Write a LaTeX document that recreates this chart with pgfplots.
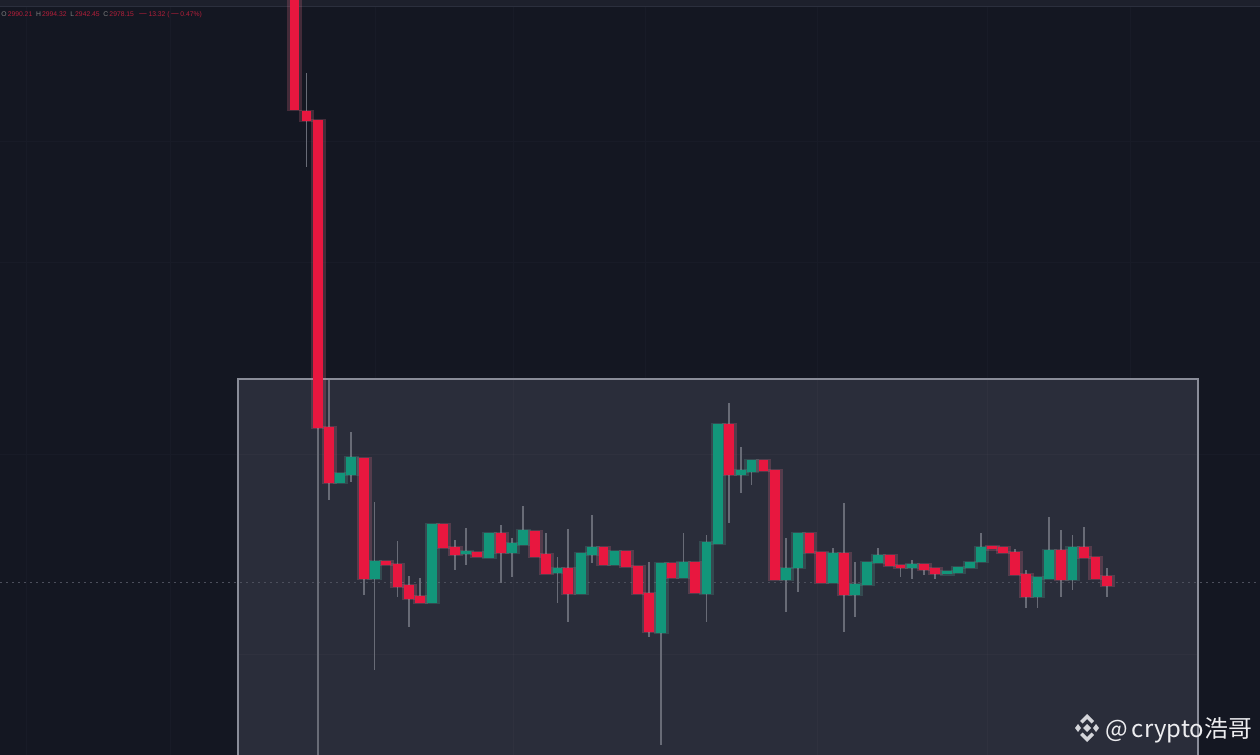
\documentclass[border=0pt]{standalone}
\usepackage{fontspec}
\setmainfont{Noto Sans CJK SC}
\newfontfamily\smallsans{Liberation Sans}
\usepackage{pgfplots}
\usepackage{pgfplotstable}
\pgfplotsset{compat=1.18}
\definecolor{bg}{HTML}{141722}
\definecolor{panel}{HTML}{2A2D3A}
\definecolor{panelborder}{HTML}{8A8D99}
\definecolor{cred}{HTML}{E8173F}
\definecolor{cgreen}{HTML}{12967A}
\definecolor{wick}{HTML}{686B76}
\definecolor{toolbar}{HTML}{1D202C}
\definecolor{gridc}{HTML}{181B27}
\definecolor{txtred}{HTML}{B51F3A}
\definecolor{logoc}{HTML}{D4D5DA}
\definecolor{wmtext}{HTML}{EDEDF0}
\definecolor{priceline}{HTML}{4C4F5C}
\definecolor{tbline}{HTML}{2B2F3D}

% x = candle centre, o c h l = open close high low (chart units)
\pgfplotstableread{
x o c h l
294.5 765 645 765 645
306.5 644 634 682 588
318 635 327 635 -10
329 328 272 375 255
364 297 176 297 160
386 194 190 194 190
397.5 191 168 214 158
409 170 156 179 128
420 159 152 177 152
443 231 207 231 207
455 208 200 215 185
477 203 198 203 198
501 222 202 230 172
535 224 198 224 198
546 201 181 222 181
568 187 161 226 133
603.5 208 190 208 190
626 204 188 204 188
638 189 161 189 161
649 162 123 193 118
671.5 192 177 192 177
695 193 162 193 162
729 331 280 352 232
763.5 295 284 295 284
775 285 175 285 175
809.5 222 202 222 202
821 203 172 203 172
844 202 160 252 123
890 200 189 200 189
900.5 190 187 190 178
924 191 185 191 180
935 187 181 187 176
992 208 206 208 206
1003 208 202 208 202
1015 203 180 206 180
1026 181 158 185 147
1061 205 175 225 158
1084 208 197 228 197
1095.5 198 176 198 176
1107 179 169 187 158
}\redtab

\pgfplotstableread{
x o c h l
340 272 282 282 272
351 280 298 323 273
374.7 176 194 253 85
432 152 231 231 152
466 202 203.5 227 190
489 197 222 222 197
512 202 212 217 178
523 210 225 249 210
557.5 182 187 198 152
581 161 202 202 161
592 200 208 240 192
614.5 190 204 204 190
661 122 192 192 10
683.5 177 193 222 177
706.5 161 213 220 133
718 211 331 331 211
741 280 285 308 262
751.5 283 295 295 270
786 175 187 217 143
798 187 222 222 163
833 172 202 207 172
855 160 171 193 138
867 170 193 193 170
878 192 200 207 192
912 187 191 195 176
947 181 183 183 181
958 182 188 188 182
970 187 193 193 187
981 193 208 222 193
1037.5 158 178 178 147
1049 176 205 238 176
1072.5 175 208 220 165
}\greentab

\pgfplotsset{
  wickplot/.style={mark=none, draw=none, forget plot,
    error bars/.cd, y dir=both, y explicit, error mark=none,
    error bar style={line width=0.7bp, draw=wick, solid}},
  bodyplot/.style n args={3}{mark=none, draw=none, forget plot,
    error bars/.cd, y dir=both, y explicit, error mark=none,
    error bar style={line width=#2, draw=#1, solid, line cap=butt, opacity=#3}},
}

\begin{document}
\begin{tikzpicture}
\begin{axis}[
  width=630bp, height=377.5bp, scale only axis,
  xmin=0, xmax=1260, ymin=0, ymax=755,
  axis lines=none, ticks=none, clip=true,
]
% background
\fill[bg] (rel axis cs:0,0) rectangle (rel axis cs:1,1);
% faint grid
\draw[gridc, line width=0.5bp] (axis cs:26,0) -- (axis cs:26,748);
\draw[gridc, line width=0.5bp] (axis cs:170,0) -- (axis cs:170,748);
\draw[gridc, line width=0.5bp] (axis cs:375,0) -- (axis cs:375,748);
\draw[gridc, line width=0.5bp] (axis cs:513,0) -- (axis cs:513,748);
\draw[gridc, line width=0.5bp] (axis cs:645,0) -- (axis cs:645,748);
\draw[gridc, line width=0.5bp] (axis cs:817,0) -- (axis cs:817,748);
\draw[gridc, line width=0.5bp] (axis cs:987,0) -- (axis cs:987,748);
\draw[gridc, line width=0.5bp] (axis cs:1130,0) -- (axis cs:1130,748);
\draw[gridc, line width=0.5bp] (axis cs:0,492) -- (axis cs:1260,492);
\draw[gridc, line width=0.5bp] (axis cs:0,613) -- (axis cs:1260,613);
\draw[gridc, line width=0.5bp] (axis cs:0,300) -- (axis cs:1260,300);
% top toolbar
\fill[toolbar] (axis cs:0,748) rectangle (axis cs:1260,756);
\draw[tbline, line width=0.5bp] (axis cs:0,748) -- (axis cs:1260,748);
% highlighted panel
\fill[panel] (axis cs:238,-5) rectangle (axis cs:1198,376);
\draw[white, opacity=0.025, line width=0.5bp] (axis cs:238,300) -- (axis cs:1198,300);
\draw[white, opacity=0.025, line width=0.5bp] (axis cs:238,100) -- (axis cs:1198,100);
\draw[white, opacity=0.025, line width=0.5bp] (axis cs:513,-5) -- (axis cs:513,376);
\draw[white, opacity=0.025, line width=0.5bp] (axis cs:817,-5) -- (axis cs:817,376);
\draw[white, opacity=0.025, line width=0.5bp] (axis cs:987,-5) -- (axis cs:987,376);
\draw[panelborder, line width=1bp] (axis cs:238,-5) -- (axis cs:238,376) -- (axis cs:1198,376) -- (axis cs:1198,-5);
% price line
\draw[priceline, line width=0.5bp, dash pattern=on 1bp off 2bp] (axis cs:0,172) -- (axis cs:1260,172);

% wicks
\addplot[wickplot] table[x=x, y expr={(\thisrow{h}+\thisrow{l})/2}, y error expr={(\thisrow{h}-\thisrow{l})/2}] {\redtab};
\addplot[wickplot] table[x=x, y expr={(\thisrow{h}+\thisrow{l})/2}, y error expr={(\thisrow{h}-\thisrow{l})/2}] {\greentab};
% glow
\addplot[bodyplot={cred!60!white}{7.5bp}{0.22}] table[x=x, y expr={(\thisrow{o}+\thisrow{c})/2}, y error expr={max(abs(\thisrow{o}-\thisrow{c})/2,1.5)+1.2}] {\redtab};
\addplot[bodyplot={cgreen!70!white}{7.5bp}{0.22}] table[x=x, y expr={(\thisrow{o}+\thisrow{c})/2}, y error expr={max(abs(\thisrow{o}-\thisrow{c})/2,1.5)+1.2}] {\greentab};
% bodies
\addplot[bodyplot={cred}{4.8bp}{1}] table[x=x, y expr={(\thisrow{o}+\thisrow{c})/2}, y error expr={max(abs(\thisrow{o}-\thisrow{c})/2,1.5)}] {\redtab};
\addplot[bodyplot={cgreen}{4.8bp}{1}] table[x=x, y expr={(\thisrow{o}+\thisrow{c})/2}, y error expr={max(abs(\thisrow{o}-\thisrow{c})/2,1.5)}] {\greentab};

% header text
\node[anchor=base west, inner sep=0pt, font=\smallsans\fontsize{3.4}{4}\selectfont] at (axis cs:1,738)
  {\textcolor{gray}{O}\,\textcolor{txtred}{2990.21}\ \ \textcolor{gray}{H}\,\textcolor{txtred}{2994.32}\ \ \textcolor{gray}{L}\,\textcolor{txtred}{2942.45}\ \ \textcolor{gray}{C}\,\textcolor{txtred}{2978.15\ \ $-$13.32 ($-$0.47\%)}};

% watermark
\fill[logoc] (axis cs:1087,31) -- (axis cs:1091,27) -- (axis cs:1087,23) -- (axis cs:1083,27) -- cycle;
\fill[logoc] (axis cs:1078,31) -- (axis cs:1081,27) -- (axis cs:1078,23) -- (axis cs:1075,27) -- cycle;
\fill[logoc] (axis cs:1096,31) -- (axis cs:1099,27) -- (axis cs:1096,23) -- (axis cs:1093,27) -- cycle;
\fill[logoc] (axis cs:1080,34) -- (axis cs:1087,41) -- (axis cs:1094,34) -- (axis cs:1091.5,31.5) -- (axis cs:1087,36) -- (axis cs:1082.5,31.5) -- cycle;
\fill[logoc] (axis cs:1080,20) -- (axis cs:1087,13) -- (axis cs:1094,20) -- (axis cs:1091.5,22.5) -- (axis cs:1087,18) -- (axis cs:1082.5,22.5) -- cycle;
\node[anchor=base west, inner sep=0pt, text=wmtext, font=\fontsize{12}{14}\selectfont] at (axis cs:1105,18) {@\,crypto浩哥};
\end{axis}
\end{tikzpicture}
\end{document}
